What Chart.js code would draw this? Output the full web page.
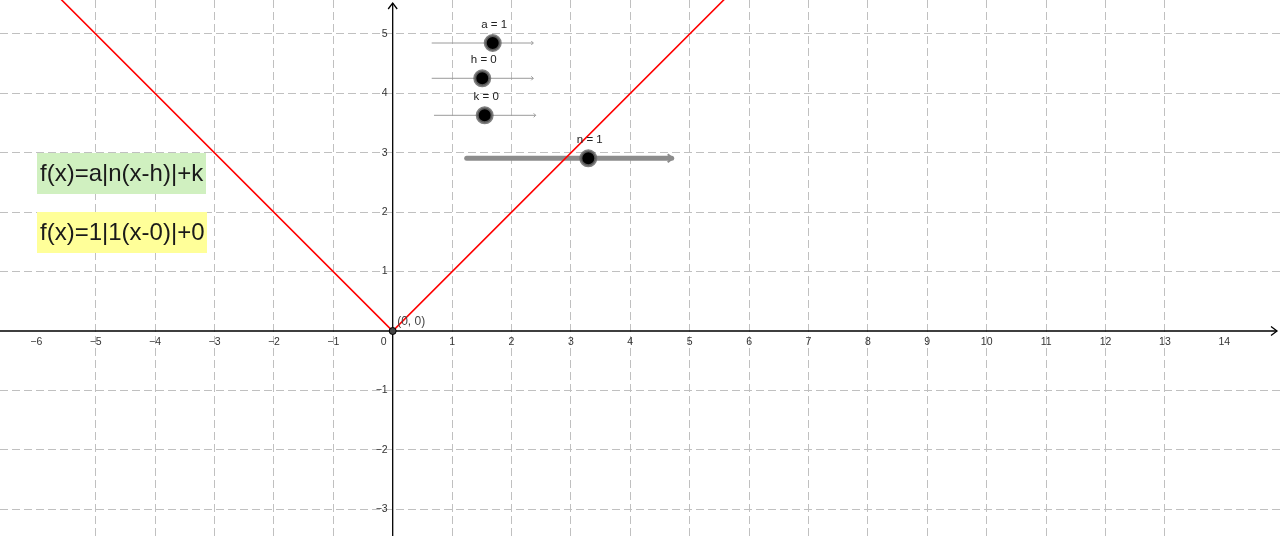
<!DOCTYPE html>
<html><head><meta charset="utf-8">
<script src="https://cdn.jsdelivr.net/npm/chart.js@4"></script>
<style>html,body{margin:0;padding:0;background:#fff;overflow:hidden}#wrap{width:1280px;height:536px;position:relative}</style>
</head><body><div id="wrap"><canvas id="c" width="1280" height="536"></canvas></div>
<script>
// ---- data ----
const xRange = [-6.611, 14.938];
const yRange = [-3.451, 5.572];
const xTickLabels = [-6,-5,-4,-3,-2,-1,0,1,2,3,4,5,6,7,8,9,10,11,12,13,14];
const yTickLabels = [-3,-2,-1,1,2,3,4,5];
const fX = [-8, 0, 16];
const fY = [8, 0, 16];
const vertexX = [0];
const vertexY = [0];
const vertexLabel = '(0, 0)';
const sliderNames = ['a','h','k','n'];
const sliderValues = [1,0,0,1];
const sliderStartX = [0.657,0.657,0.695,1.246];
const sliderEndX = [2.367,2.367,2.407,4.697];
const sliderY = [4.848,4.254,3.631,2.907];
const sliderKnobX = [1.684,1.508,1.549,3.293];
const formulaGeneral = 'f(x)=a|n(x-h)|+k';
const formulaValue = 'f(x)=1|1(x-0)|+0';

const FONT = '"Liberation Sans", Arial, sans-serif';
const fmt = v => (v < 0 ? '\u2212' + Math.abs(v) : String(v));

const datasets = [];
datasets.push({
  label:'knobs', order:0,
  data: sliderKnobX.map((x,i)=>({x, y:sliderY[i]})),
  showLine:false, pointRadius:7.5, pointHoverRadius:7.5,
  backgroundColor:'#000', borderColor:'rgba(105,105,105,0.85)', borderWidth:3
});
datasets.push({
  label:'vertex', order:1,
  data: vertexX.map((x,i)=>({x, y:vertexY[i]})),
  showLine:false, pointRadius:3.5, backgroundColor:'#444', borderColor:'#000', borderWidth:1
});
datasets.push({
  label:'f', order:2,
  data: fX.map((x,i)=>({x, y:fY[i]})),
  showLine:true, pointRadius:0, borderColor:'#ff0000', borderWidth:1.6, fill:false
});
sliderNames.forEach((n,i)=>{
  datasets.push({
    label:'track '+n, order:3,
    data:[{x:sliderStartX[i], y:sliderY[i]},{x:sliderEndX[i], y:sliderY[i]}],
    showLine:true, pointRadius:0,
    borderColor: n==='n' ? '#8c8c8c' : '#9a9a9a',
    borderWidth: n==='n' ? 5 : 1,
    borderCapStyle: n==='n' ? 'round' : 'butt'
  });
});

const gridColor = ctx => (Math.abs(ctx.tick.value - Math.round(ctx.tick.value)) < 1e-6 && ctx.tick.value !== 0 ? '#c0c0c0' : 'rgba(0,0,0,0)');

const geoPlugin = {
  id:'geo',
  beforeDatasetsDraw(chart){
    const c = chart.ctx, xs = chart.scales.x, ys = chart.scales.y;
    const x0 = xs.getPixelForValue(0), y0 = ys.getPixelForValue(0);
    const W = chart.width, H = chart.height;
    c.save();
    c.fillStyle = '#d0f0c0';
    c.fillRect(37, 153, 169, 41);
    c.fillStyle = '#ffff99';
    c.fillRect(37, 212, 170, 41);
    c.fillStyle = '#1a1a1a';
    c.font = '24px ' + FONT;
    c.textBaseline = 'middle'; c.textAlign = 'left';
    c.fillText(formulaGeneral, 40, 174);
    c.fillText(formulaValue, 40, 233);
    c.strokeStyle = '#000'; c.lineWidth = 1.3;
    c.beginPath();
    c.moveTo(0, y0); c.lineTo(W - 3, y0);
    c.moveTo(x0, H); c.lineTo(x0, 3);
    c.stroke();
    c.beginPath();
    c.moveTo(W - 9, y0 - 4.5); c.lineTo(W - 3, y0); c.lineTo(W - 9, y0 + 4.5);
    c.moveTo(x0 - 4.5, 9); c.lineTo(x0, 3); c.lineTo(x0 + 4.5, 9);
    c.stroke();
    c.fillStyle = '#333';
    c.font = '10.5px ' + FONT;
    c.textBaseline = 'middle';
    xTickLabels.forEach(v=>{
      const px = xs.getPixelForValue(v);
      if (v === 0) { c.textAlign = 'right'; c.fillText('0', px - 6, y0 + 11); }
      else { c.textAlign = 'center'; c.fillText(fmt(v), px, y0 + 11); }
    });
    c.textAlign = 'right';
    yTickLabels.forEach(v=>{
      const py = ys.getPixelForValue(v);
      c.fillText(fmt(v), x0 - 5, py);
    });
    c.restore();
  },
  afterDatasetsDraw(chart){
    const c = chart.ctx, xs = chart.scales.x, ys = chart.scales.y;
    c.save();
    sliderNames.forEach((n,i)=>{
      const px = xs.getPixelForValue(sliderEndX[i]), py = ys.getPixelForValue(sliderY[i]);
      c.strokeStyle = n==='n' ? '#8c8c8c' : '#9a9a9a';
      c.lineWidth = n==='n' ? 2 : 1;
      const s = n==='n' ? 4 : 2;
      c.beginPath();
      c.moveTo(px - s, py - s); c.lineTo(px + (n==='n'?1:0), py); c.lineTo(px - s, py + s);
      c.stroke();
    });
    c.fillStyle = '#222';
    c.font = '11.5px ' + FONT;
    c.textAlign = 'center'; c.textBaseline = 'middle';
    sliderNames.forEach((n,i)=>{
      const px = xs.getPixelForValue(sliderKnobX[i]), py = ys.getPixelForValue(sliderY[i]);
      c.fillText(n + ' = ' + sliderValues[i], px + 1.5, py - 18.5);
    });
    c.fillStyle = '#444';
    c.font = '12px ' + FONT;
    c.textAlign = 'left';
    c.fillText(vertexLabel, xs.getPixelForValue(vertexX[0]) + 4.5, ys.getPixelForValue(vertexY[0]) - 9.5);
    c.restore();
  }
};

new Chart(document.getElementById('c'), {
  type:'scatter',
  data:{ datasets },
  options:{
    responsive:false, animation:false, devicePixelRatio:1,
    layout:{ padding:0, autoPadding:false },
    plugins:{ legend:{display:false}, tooltip:{enabled:false} },
    events:[],
    scales:{
      x:{ type:'linear', min:xRange[0], max:xRange[1],
          ticks:{ display:false, stepSize:1 },
          grid:{ color:gridColor, lineWidth:1, drawTicks:false },
          border:{ display:false, dash:[8,4] } },
      y:{ type:'linear', min:yRange[0], max:yRange[1],
          ticks:{ display:false, stepSize:1 },
          grid:{ color:gridColor, lineWidth:1, drawTicks:false },
          border:{ display:false, dash:[8,4] } }
    }
  },
  plugins:[geoPlugin]
});
</script>
</body></html>
